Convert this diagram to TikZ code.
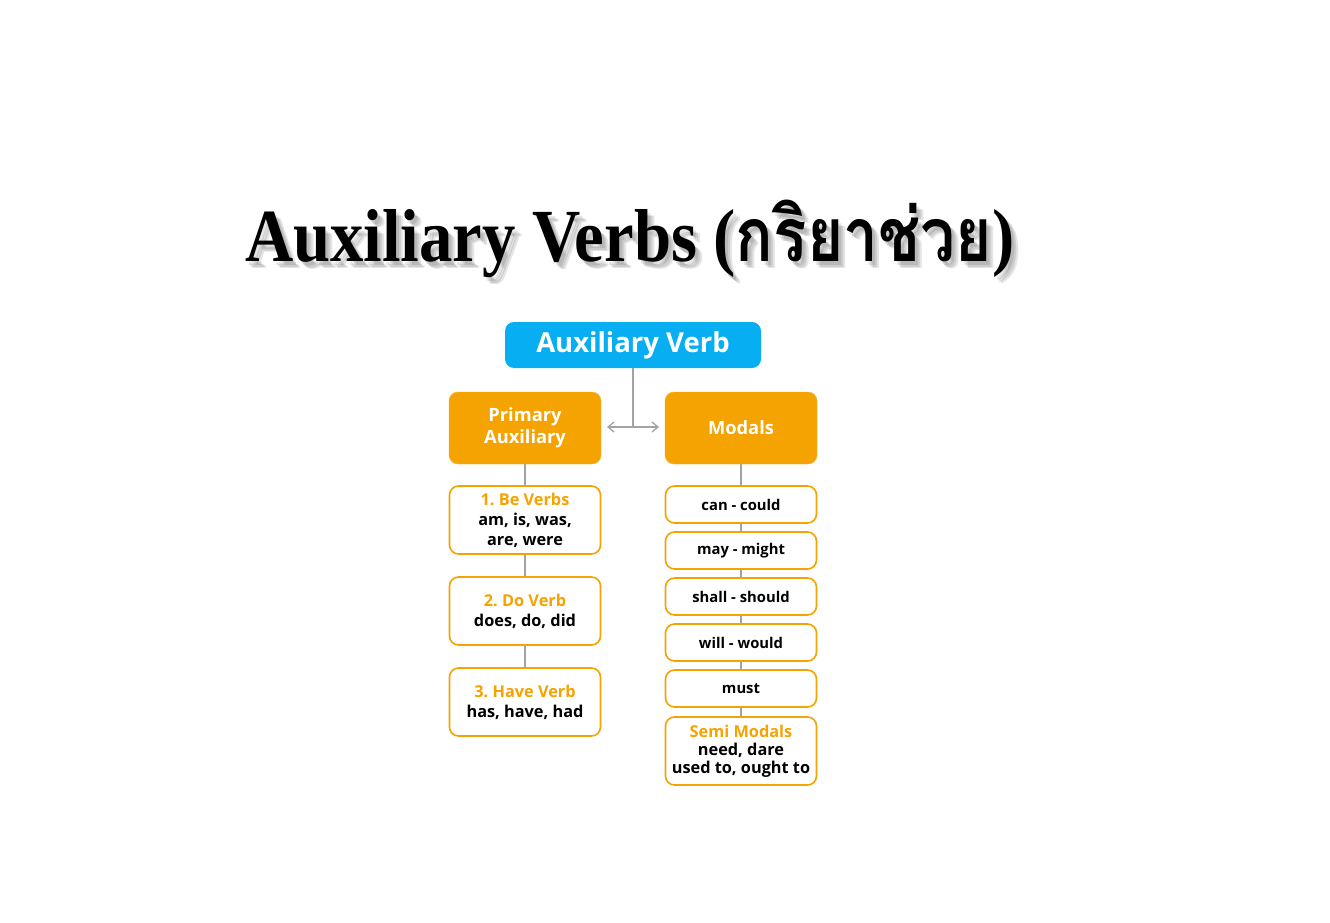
\documentclass[tikz,border=0pt]{standalone}
\usepackage{fontspec}
\usetikzlibrary{arrows.meta}
\setmainfont{Open Sans}
\newfontfamily\titlefont{Liberation Serif}
\newfontfamily\thaifont[Script=Thai]{Loma}
\definecolor{orng}{HTML}{F5A300}
\definecolor{bluec}{HTML}{08AEF2}
\definecolor{linec}{HTML}{A3A3A3}
\frenchspacing
\newcommand{\titletext}{\fontsize{75}{80}\selectfont\titlefont\bfseries\scalebox{0.89}[1]{Auxiliary Verbs (}\scalebox{0.83}[1]{\thaifont กริยาช่วย}\scalebox{0.89}[1]{)}}
\tikzset{
  topbox/.style={fill=bluec, rounded corners=9pt, minimum width=256pt, minimum height=46pt, inner sep=0pt, text=white, font=\fontsize{27.5}{30}\selectfont\bfseries},
  catbox/.style={fill=orng, draw=orng!85!white, rounded corners=9pt, minimum width=152pt, minimum height=72pt, inner sep=0pt, text=white, align=center, font=\fontsize{18.3}{22}\selectfont\bfseries},
  itembox/.style={fill=white, draw=orng, line width=1.6pt, rounded corners=9pt, minimum width=151pt, inner sep=0pt, align=center, font=\fontsize{16.3}{20}\selectfont\bfseries},
  smallbox/.style={itembox, minimum height=37pt, font=\fontsize{14.8}{18}\selectfont\bfseries},
  shadowtext/.style={anchor=base west, inner sep=0pt, text=black, opacity=0.1},
  conn/.style={draw=linec, line width=1.3pt}
}
\begin{document}
\begin{tikzpicture}[x=1pt,y=-1pt]
\useasboundingbox[fill=white] (0,0) rectangle (1330,923);
% title shadow (soft)
\node[shadowtext] (sh1) at (248,265) {\titletext};
\node[shadowtext] (sh2) at (250,267) {\titletext};
\node[shadowtext] (sh3) at (252,268) {\titletext};
\node[anchor=base west, inner sep=0pt] (title) at (245,261) {\titletext};
% top
\node[topbox] (top) at (633,345) {Auxiliary Verb};
\node[catbox] (prim) at (525,428) {Primary\\Auxiliary};
\node[catbox] (mod) at (741,428) {Modals};
% left column
\node[itembox, minimum height=68pt] (be) at (525,520) {\textcolor{orng}{1. Be Verbs}\\am, is, was,\\are, were};
\node[itembox, minimum height=68pt] (do) at (525,611) {\textcolor{orng}{2. Do Verb}\\does, do, did};
\node[itembox, minimum height=68pt] (have) at (525,702) {\textcolor{orng}{3. Have Verb}\\has, have, had};
% right column
\node[smallbox] (can) at (741,504.5) {can - could};
\node[smallbox] (may) at (741,550.5) {may - might};
\node[smallbox] (shall) at (741,596.5) {shall - should};
\node[smallbox] (will) at (741,642.5) {will - would};
\node[smallbox] (must) at (741,688.5) {must};
\node[itembox, minimum height=68pt, font=\fontsize{16.3}{18}\selectfont\bfseries] (semi) at (741,751) {\textcolor{orng}{Semi Modals}\\need, dare\\used to, ought to};
% connectors
\coordinate (junc) at (633,427);
\coordinate (la) at (607,427);
\coordinate (ra) at (659,427);
\draw[conn] (top.south) -- (junc);
\draw[conn, -{Straight Barb[length=6pt,width=10pt]}] (junc) -- (la);
\draw[conn, -{Straight Barb[length=6pt,width=10pt]}] (junc) -- (ra);
\draw[conn] (prim.south) -- (be.north);
\draw[conn] (be.south) -- (do.north);
\draw[conn] (do.south) -- (have.north);
\draw[conn] (mod.south) -- (can.north);
\draw[conn] (can.south) -- (may.north);
\draw[conn] (may.south) -- (shall.north);
\draw[conn] (shall.south) -- (will.north);
\draw[conn] (will.south) -- (must.north);
\draw[conn] (must.south) -- (semi.north);
\end{tikzpicture}
\end{document}
